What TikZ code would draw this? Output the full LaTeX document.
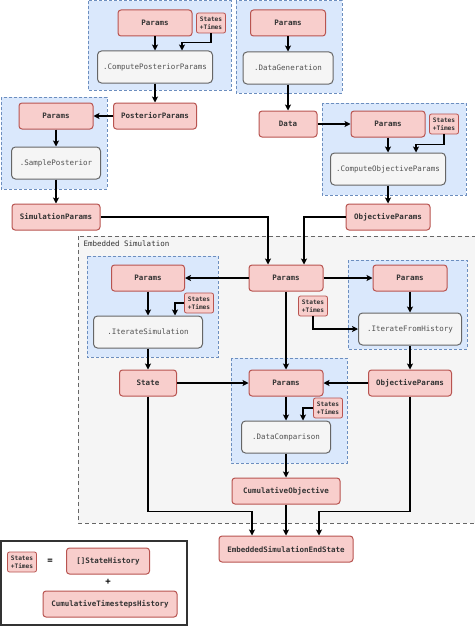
\documentclass[tikz,border=0pt]{standalone}
\usepackage{fontspec}
\setmonofont{DejaVu Sans Mono}
\usetikzlibrary{arrows.meta,positioning}
\definecolor{redfill}{HTML}{F8CECC}
\definecolor{redline}{HTML}{B85450}
\definecolor{bluefill}{HTML}{DAE8FC}
\definecolor{blueline}{HTML}{6C8EBF}
\definecolor{greyfill}{HTML}{F5F5F5}
\definecolor{greyline}{HTML}{666666}
\definecolor{textdark}{HTML}{333333}
\tikzset{
>={Stealth[length=6pt, width=6pt, inset=1.5pt]},
  param/.style={
    rectangle,
    rounded corners=3pt,
    fill=redfill,
    draw=redline, line width=1pt,
    minimum height=26pt,
    inner sep=2pt,
    text=textdark,
    font=\ttfamily\bfseries\fontsize{7.5}{9}\selectfont},
  method/.style={
    rectangle,
    rounded corners=4pt,
    fill=greyfill,
    draw=greyline, line width=1pt,
    minimum height=32pt,
    inner sep=2pt,
    text=greyline!80!black,
    font=\ttfamily\fontsize{7.5}{9}\selectfont},
  tag/.style={
    rectangle,
    rounded corners=2pt,
    fill=redfill,
    draw=redline, line width=0.8pt,
    minimum width=29pt, minimum height=20pt,
    inner sep=1pt,
    align=center,
    text=textdark,
    font=\ttfamily\bfseries\fontsize{6.2}{7.8}\selectfont},
  group/.style={fill=bluefill, draw=blueline, line width=1pt, dash pattern=on 3pt off 2pt},
  embed/.style={fill=greyfill, draw=greyline, line width=1pt, dash pattern=on 4pt off 3pt},
  legend/.style={fill=white, draw=textdark, line width=1.4pt},
  line/.style={draw, line width=1.2pt, ->},
}
\begin{document}
\begin{tikzpicture}[x=1pt, y=-1pt]
\useasboundingbox[fill=white] (0,0) rectangle (474,626);
% frames
\draw[embed] (78,236) rectangle (480,523);
\node[anchor=west, text=textdark, font=\ttfamily\fontsize{7.5}{9}\selectfont] (elabel) at (80,244) {Embedded Simulation};
\draw[group] (88,1) rectangle (231,90);
\draw[group] (1,97) rectangle (107,189);
\draw[group] (236,1) rectangle (342,93);
\draw[group] (322,103) rectangle (466,195);
\draw[group] (87,256) rectangle (218,357);
\draw[group] (348,260) rectangle (467,349);
\draw[group] (231,358) rectangle (347,463);

% posterior
\node[param, minimum width=74pt] (pin) at (155,23) {Params};
\node[tag] (ptag) at (211,23) {States\\+Times};
\node[method, minimum width=115pt] (cpp) at (155,67) {.ComputePosteriorParams};
\node[param, minimum width=83pt] (postp) at (155,116) {PosteriorParams};
\node[param, minimum width=74pt] (sin) at (56,116) {Params};
\node[method, minimum width=89pt] (samp) at (56,163) {.SamplePosterior};
\node[param, minimum width=88pt] (simp) at (56,217) {SimulationParams};

% data and objective
\node[param, minimum width=75pt] (gin) at (288,23) {Params};
\node[method, minimum width=90pt] (dgen) at (288,68) {.DataGeneration};
\node[param, minimum width=58pt] (data) at (288,124) {Data};
\node[param, minimum width=74pt] (oin) at (388,124) {Params};
\node[tag] (otag) at (444,124) {States\\+Times};
\node[method, minimum width=115pt] (cop) at (388,169) {.ComputeObjectiveParams};
\node[param, minimum width=84pt] (objp) at (388,217) {ObjectiveParams};

% embedded simulation
\node[param, minimum width=74pt] (mp) at (286,278) {Params};
\node[param, minimum width=73pt] (simin) at (148,278) {Params};
\node[tag] (stag) at (199,303) {States\\+Times};
\node[method, minimum width=109pt] (isim) at (148,332) {.IterateSimulation};
\node[param, minimum width=57pt] (state) at (148,383) {State};
\node[param, minimum width=74pt] (hin) at (410,278) {Params};
\node[tag] (htag) at (313,306) {States\\+Times};
\node[method, minimum width=103pt] (ifh) at (410,329) {.IterateFromHistory};
\node[param, minimum width=83pt] (objq) at (410,383) {ObjectiveParams};
\node[param, minimum width=74pt] (cin) at (286,383) {Params};
\node[tag] (ctag) at (328,408) {States\\+Times};
\node[method, minimum width=89pt] (dcmp) at (286,437) {.DataComparison};
\node[param, minimum width=108pt] (cobj) at (286,491) {CumulativeObjective};
\node[param, minimum width=134pt] (endst) at (286,549) {EmbeddedSimulationEndState};

% legend
\draw[legend] (1,541) rectangle (187,625);
\node[tag] (ltag) at (22,562) {States\\+Times};
\node[text=black, font=\ttfamily\bfseries\fontsize{9}{10}\selectfont] (eq) at (50,561) {=};
\node[param, minimum width=83pt] (shist) at (108,561) {[]StateHistory};
\node[text=black, font=\ttfamily\bfseries\fontsize{9}{10}\selectfont] (plus) at (108,582) {+};
\node[param, minimum width=134pt] (cth) at (110,604) {CumulativeTimestepsHistory};

% arrows
\draw[line] (pin) -- (cpp);
\draw[line] (ptag.south) -- ++(0,9) -| ([xshift=27pt]cpp.north);
\draw[line] (cpp) -- (postp);
\draw[line] (postp) -- (sin);
\draw[line] (sin) -- (samp);
\draw[line] (samp) -- (simp);
\draw[line] (gin) -- (dgen);
\draw[line] (dgen) -- (data);
\draw[line] (data) -- (oin);
\draw[line] (oin) -- (cop);
\draw[line] (otag.south) -- ++(0,10) -| ([xshift=28pt]cop.north);
\draw[line] (cop) -- (objp);
\draw[line] (simp.east) -| ([xshift=-18pt]mp.north);
\draw[line] (objp.west) -| ([xshift=18pt]mp.north);
\draw[line] (mp) -- (simin);
\draw[line] (mp) -- (hin);
\draw[line] (simin) -- (isim);
\draw[line] (stag.west) -| ([xshift=27pt]isim.north);
\draw[line] (isim) -- (state);
\draw[line] (hin) -- (ifh);
\draw[line] (htag.south) |- (ifh.west);
\draw[line] (ifh) -- (objq);
\draw[line] (mp) -- (cin);
\draw[line] (state) -- (cin);
\draw[line] (objq) -- (cin);
\draw[line] (cin) -- (dcmp);
\draw[line] (ctag.west) -| ([xshift=17pt]dcmp.north);
\draw[line] (dcmp) -- (cobj);
\draw[line] (cobj) -- (endst);
\draw[line] (state.south) -- ++(0,115) -| ([xshift=-34pt]endst.north);
\draw[line] (objq.south) -- ++(0,115) -| ([xshift=33pt]endst.north);
\end{tikzpicture}
\end{document}
